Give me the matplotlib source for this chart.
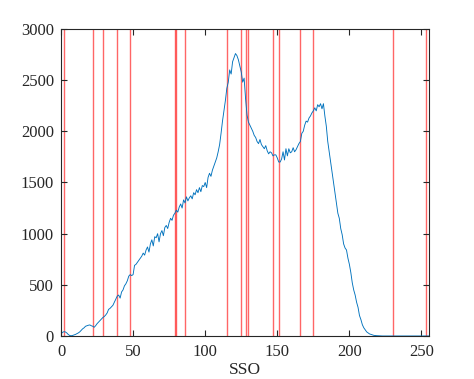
import numpy as np
import matplotlib
matplotlib.use("Agg")
import matplotlib.pyplot as plt
import matplotlib.ticker as ticker

# histogram counts per SSO bin (0..255)
counts = [
    20, 35, 42, 40, 30, 15, 5, 2, 5, 10,
    15, 22, 30, 40, 55, 70, 80, 95, 100, 105,
    108, 100, 95, 85, 100, 120, 135, 150, 165, 180,
    190, 205, 225, 260, 270, 285, 300, 330, 360, 390,
    400, 370, 430, 450, 490, 510, 540, 585, 600, 590,
    600, 690, 700, 720, 740, 760, 780, 810, 790, 840,
    870, 820, 900, 940, 880, 970, 960, 1000, 920, 1000,
    1030, 980, 1060, 1080, 1050, 1110, 1150, 1130, 1180, 1200,
    1230, 1210, 1260, 1290, 1250, 1330, 1300, 1360, 1320, 1350,
    1370, 1340, 1400, 1380, 1430, 1400, 1450, 1410, 1470, 1460,
    1500, 1450, 1550, 1590, 1560, 1620, 1660, 1700, 1740, 1800,
    1870, 1980, 2100, 2200, 2300, 2420, 2480, 2600, 2560, 2680,
    2720, 2760, 2740, 2700, 2640, 2580, 2480, 2520, 2320, 2160,
    2090, 2060, 2030, 2000, 1960, 1940, 1900, 1880, 1920, 1870,
    1850, 1830, 1860, 1810, 1780, 1800, 1790, 1760, 1770, 1770,
    1740, 1700, 1700, 1730, 1800, 1720, 1830, 1760, 1830, 1790,
    1800, 1840, 1800, 1820, 1850, 1880, 1900, 1980, 2000, 2060,
    2100, 2090, 2130, 2150, 2180, 2200, 2230, 2200, 2260, 2240,
    2270, 2220, 2270, 2150, 2050, 1900, 1800, 1700, 1600, 1500,
    1400, 1300, 1200, 1150, 1050, 990, 900, 860, 840, 760,
    700, 620, 520, 450, 400, 330, 280, 200, 160, 110,
    80, 60, 40, 30, 20, 15, 10, 6, 4, 3,
    2, 0, 0, 0, 0, 0, 0, 0, 0, 0,
    0, 0, 0, 0, 0, 0, 0, 0, 0, 0,
    0, 0, 0, 0, 0, 0, 0, 0, 0, 0,
    0, 0, 0, 0, 0, 0,
]
sso = np.arange(len(counts))

# positions of the red marker lines
marks = [2, 22, 29, 39, 48, 79, 80, 86, 115, 125, 128, 130,
         147, 151, 166, 175, 230, 253]

plt.rcParams['font.family'] = ['Liberation Serif', 'DejaVu Serif']

fig = plt.figure(figsize=(4.74, 3.79), dpi=100)
ax = fig.add_axes([0.1287, 0.1135, 0.7757, 0.81])

for m in marks:
    ax.axvline(m, color='#ff0000', alpha=0.6, linewidth=1.0, zorder=1)

ax.plot(sso, counts, color='#0072BD', linewidth=0.65, zorder=2)

ax.set_xlim(0, 255)
ax.set_ylim(0, 3000)
ax.xaxis.set_major_locator(ticker.MultipleLocator(50))
ax.yaxis.set_major_locator(ticker.MultipleLocator(500))
ax.tick_params(direction='in', top=True, right=True, length=4,
               width=0.8, colors='#262626', labelsize=12)
ax.tick_params(axis='x', pad=6)
ax.tick_params(axis='y', pad=5)
for spine in ax.spines.values():
    spine.set_edgecolor('#262626')
    spine.set_linewidth(0.8)
ax.set_xlabel('SSO', fontsize=12.5, color='#262626', labelpad=1)

fig.savefig('out.png', dpi=100)
